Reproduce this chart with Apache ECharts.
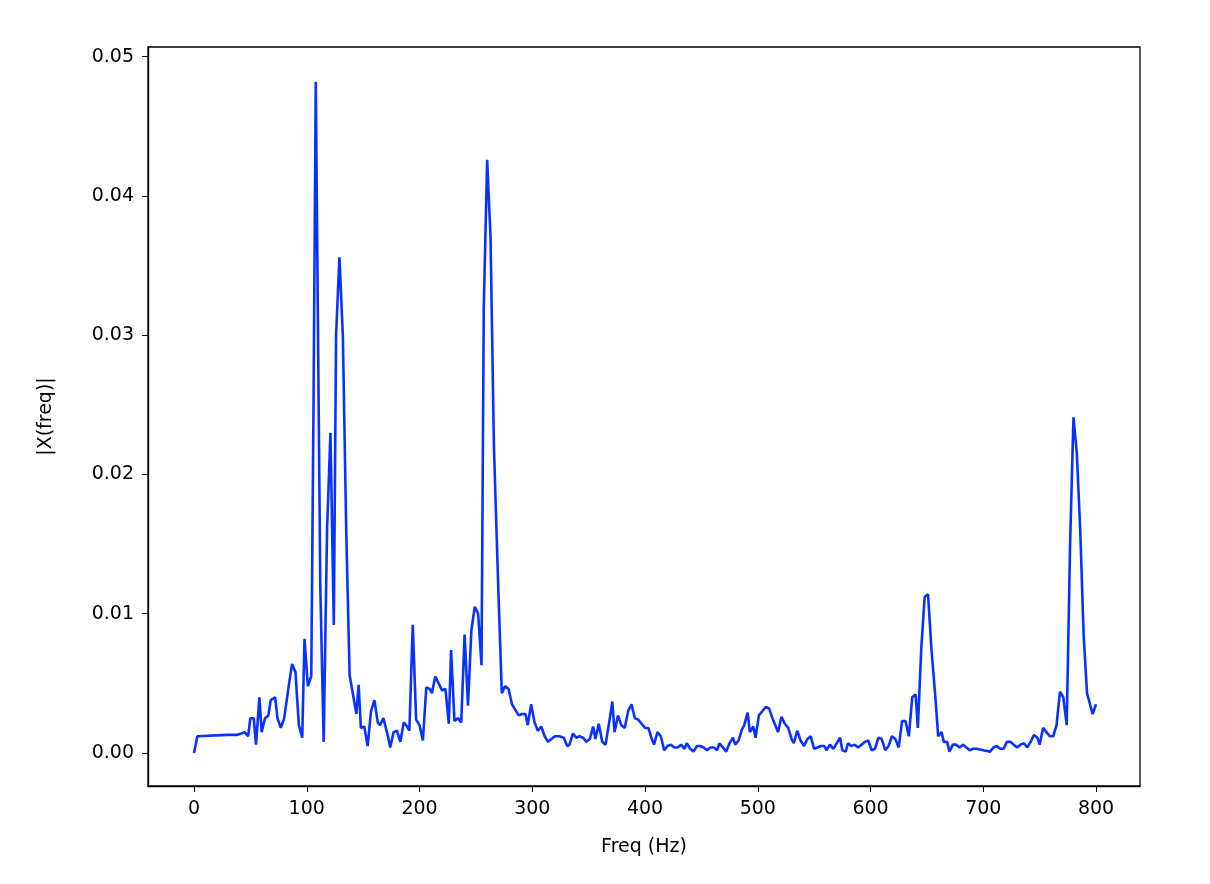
<!DOCTYPE html>
<html>
<head>
<meta charset="utf-8" />
<title>Spectrum</title>
<script src="https://cdn.jsdelivr.net/npm/echarts@6/dist/echarts.min.js"></script>
<style>
  body { margin: 0; background: #fff; }
  #main { width: 1210px; height: 884px; }
</style>
</head>
<body>
<div id="main"></div>
<script>
// frequency (Hz) and magnitude
var freq = [0, 3, 30, 38, 42, 45, 48, 50, 53, 55, 58, 60, 63, 66, 68, 72, 74, 77, 80, 84, 87, 90, 93, 96, 98,
  101, 104, 106, 108, 112, 115, 118, 121, 124, 126, 129, 132, 135, 138, 141, 144, 146, 148, 151, 154, 157, 160,
  163, 165, 168, 172, 174, 177, 180, 183, 186, 189, 191, 194, 197, 200, 203, 206, 209, 211, 214, 217, 220, 223,
  226, 228, 231, 234, 237, 240, 243, 246, 249, 252, 255, 257, 260, 263, 266, 270, 273, 276, 279, 282, 285, 288,
  291, 294, 296, 299, 302, 305, 308, 311, 314, 317, 320, 324, 328, 331, 333, 336, 339, 342, 345, 348, 351, 354,
  356, 359, 362, 365, 369, 371, 373, 376, 379, 382, 385, 388, 391, 394, 397, 400, 403, 406, 408, 411, 414, 417,
  420, 423, 426, 429, 432, 435, 437, 440, 443, 446, 449, 452, 455, 458, 461, 464, 466, 469, 472, 475, 478, 480,
  483, 486, 488, 491, 493, 496, 498, 501, 504, 507, 510, 513, 516, 518, 521, 524, 527, 530, 532, 535, 538, 541,
  544, 547, 550, 553, 556, 559, 561, 564, 567, 570, 573, 575, 578, 580, 583, 586, 589, 592, 595, 598, 601, 604,
  607, 610, 613, 616, 619, 622, 625, 628, 631, 634, 637, 640, 642, 645, 648, 651, 654, 658, 660, 663, 665, 668,
  670, 673, 676, 679, 682, 685, 688, 691, 694, 700, 706, 709, 712, 715, 718, 721, 724, 727, 730, 733, 736, 739,
  742, 745, 748, 750, 753, 756, 759, 762, 765, 768, 771, 774, 777, 780, 783, 786, 789, 792, 797, 800];
var magnitude = [0, 0.0012, 0.0013, 0.0013, 0.0014, 0.0015, 0.0012, 0.0025, 0.0025, 0.0006, 0.0040, 0.0015,
  0.0025, 0.0027, 0.0038, 0.0040, 0.0025, 0.0018, 0.0025, 0.0048, 0.0064, 0.0058, 0.0020, 0.0011, 0.0082,
  0.0048, 0.0055, 0.025, 0.0482, 0.012, 0.0008, 0.016, 0.023, 0.0092, 0.030, 0.0356, 0.030, 0.016, 0.0056,
  0.0042, 0.0028, 0.0049, 0.0018, 0.0019, 0.0005, 0.0030, 0.0038, 0.0022, 0.0020, 0.0025, 0.0012, 0.0004,
  0.0015, 0.0016, 0.0008, 0.0022, 0.0019, 0.0016, 0.0092, 0.0024, 0.0020, 0.0009, 0.0047, 0.0046, 0.0043,
  0.0055, 0.0050, 0.0045, 0.0046, 0.0021, 0.0074, 0.0023, 0.0025, 0.0022, 0.0085, 0.0034, 0.0088, 0.0105,
  0.0100, 0.0063, 0.032, 0.0426, 0.037, 0.022, 0.0115, 0.0043, 0.0048, 0.0046, 0.0035, 0.0031, 0.0027, 0.0028,
  0.0028, 0.0020, 0.0035, 0.0022, 0.0016, 0.0019, 0.0012, 0.0008, 0.0010, 0.0012, 0.0012, 0.0011, 0.0005,
  0.0006, 0.0014, 0.0011, 0.0012, 0.0011, 0.0008, 0.0010, 0.0019, 0.0010, 0.0021, 0.0008, 0.0006, 0.0026,
  0.0037, 0.0015, 0.0027, 0.0020, 0.0018, 0.0030, 0.0035, 0.0025, 0.0024, 0.0021, 0.0018, 0.0018, 0.0010,
  0.0006, 0.0015, 0.0012, 0.0002, 0.0005, 0.0006, 0.0004, 0.0004, 0.0006, 0.0003, 0.0007, 0.0003, 0.0001,
  0.0005, 0.0005, 0.0004, 0.0002, 0.0004, 0.0004, 0.0002, 0.0007, 0.0004, 0.0001, 0.0007, 0.0011, 0.0006,
  0.0009, 0.0017, 0.0020, 0.0029, 0.0015, 0.0019, 0.0011, 0.0027, 0.0030, 0.0033, 0.0032, 0.0025, 0.0019,
  0.0015, 0.0026, 0.0021, 0.0018, 0.0010, 0.0007, 0.0016, 0.0009, 0.0005, 0.0010, 0.0012, 0.0003, 0.0004,
  0.0005, 0.0005, 0.0002, 0.0006, 0.0003, 0.0007, 0.0011, 0.0002, 0.0001, 0.0007, 0.0005, 0.0006, 0.0004,
  0.0006, 0.0008, 0.0009, 0.0002, 0.0003, 0.0011, 0.0010, 0.0002, 0.0005, 0.0012, 0.0010, 0.0004, 0.0023,
  0.0023, 0.0012, 0.0040, 0.0042, 0.0018, 0.0075, 0.0112, 0.0114, 0.0075, 0.0035, 0.0012, 0.0015, 0.0008,
  0.0008, 0.0001, 0.0006, 0.0006, 0.0004, 0.0006, 0.0004, 0.0002, 0.0003, 0.0003, 0.0002, 0.0001, 0.0004,
  0.0005, 0.0003, 0.0003, 0.0008, 0.0008, 0.0006, 0.0004, 0.0006, 0.0007, 0.0004, 0.0008, 0.0013, 0.0011,
  0.0006, 0.0018, 0.0015, 0.0012, 0.0012, 0.0020, 0.0044, 0.0040, 0.0020, 0.015, 0.0241, 0.0215, 0.016,
  0.0085, 0.0043, 0.0028, 0.0035];
var xTicks = [0, 100, 200, 300, 400, 500, 600, 700, 800];
var yTicks = [0, 0.01, 0.02, 0.03, 0.04, 0.05];

var chart = echarts.init(document.getElementById('main'));
var labelStyle = { color: '#000', fontSize: 19, fontFamily: 'DejaVu Sans' };
chart.setOption({
  animation: false,
  grid: { left: 148, right: 70, top: 47, bottom: 98, show: true, borderColor: '#000', borderWidth: 1.3 },
  xAxis: {
    type: 'value', min: -40.8, max: 839, name: 'Freq (Hz)', nameLocation: 'middle', nameGap: 52,
    nameTextStyle: labelStyle,
    axisLine: { show: true, onZero: false, lineStyle: { color: '#000', width: 1.3 } },
    axisTick: { show: true, length: 6, lineStyle: { color: '#000' }, customValues: xTicks },
    axisLabel: Object.assign({ margin: 14, customValues: xTicks }, labelStyle),
    splitLine: { show: false }
  },
  yAxis: {
    type: 'value', min: -0.00237, max: 0.0507, name: '|X(freq)|', nameLocation: 'middle', nameGap: 92,
    nameTextStyle: labelStyle,
    axisLine: { show: true, onZero: false, lineStyle: { color: '#000', width: 1.3 } },
    axisTick: { show: true, length: 6, lineStyle: { color: '#000' }, customValues: yTicks },
    axisLabel: Object.assign({ margin: 14, customValues: yTicks,
      formatter: function (v) { return v.toFixed(2); } }, labelStyle),
    splitLine: { show: false }
  },
  series: [{
    type: 'line', showSymbol: false,
    data: freq.map(function (f, i) { return [f, magnitude[i]]; }),
    lineStyle: { color: '#0a32ff', width: 2.6 }
  }]
});
</script>
</body>
</html>
